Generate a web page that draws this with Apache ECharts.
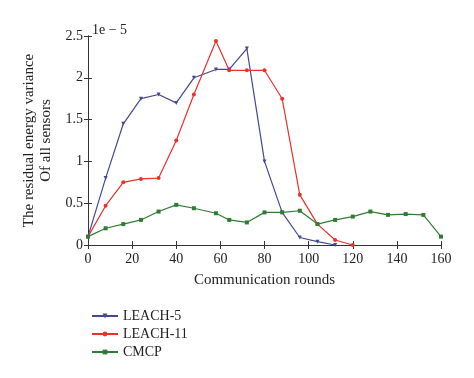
<!DOCTYPE html>
<html>
<head>
<meta charset="utf-8">
<script src="https://cdn.jsdelivr.net/npm/echarts@6/dist/echarts.min.js"></script>
<style>html,body{margin:0;padding:0;background:#fff}#c{width:474px;height:378px}</style>
</head>
<body>
<div id="c"></div>
<script>
var xTicks = [0, 20, 40, 60, 80, 100, 120, 140, 160];
var yTicks = [0, 0.5, 1, 1.5, 2, 2.5];
var leach5X = [0, 8, 16, 24, 32, 40, 48, 58, 64, 72, 80, 88, 96, 104, 112];
var leach5Y = [0.1, 0.8, 1.45, 1.75, 1.8, 1.7, 2.0, 2.1, 2.1, 2.35, 1.0, 0.39, 0.09, 0.04, 0];
var leach11X = [0, 8, 16, 24, 32, 40, 48, 58, 64, 72, 80, 88, 96, 104, 112, 120];
var leach11Y = [0.1, 0.47, 0.75, 0.79, 0.8, 1.25, 1.8, 2.44, 2.09, 2.09, 2.09, 1.75, 0.6, 0.25, 0.06, 0];
var cmcpX = [0, 8, 16, 24, 32, 40, 48, 58, 64, 72, 80, 88, 96, 104, 112, 120, 128, 136, 144, 152, 160];
var cmcpY = [0.1, 0.2, 0.25, 0.3, 0.4, 0.48, 0.44, 0.38, 0.3, 0.27, 0.39, 0.39, 0.41, 0.25, 0.3, 0.34, 0.4, 0.36, 0.37, 0.36, 0.1];
var seriesNames = ['LEACH-5', 'LEACH-11', 'CMCP'];
var colors = ['#45488f', '#e8322b', '#2f7d35'];

function pairs(xs, ys) { return xs.map(function (x, i) { return [x, ys[i]]; }); }

var font = '"Liberation Serif", "DejaVu Serif", serif';
var chart = echarts.init(document.getElementById('c'));
var axisLine = { show: true, lineStyle: { color: '#333', width: 1 } };
var tick = { show: true, inside: true, length: 4, lineStyle: { color: '#333' } };
chart.setOption({
  animation: false,
  grid: { left: 88, right: 33, top: 36, bottom: 133 },
  title: {
    text: '1e − 5', left: 87, top: 18,
    textStyle: { fontFamily: font, fontSize: 14, fontWeight: 'normal', color: '#222' }
  },
  legend: {
    orient: 'vertical', left: 86, top: 304,
    itemWidth: 26, itemHeight: 6, itemGap: 4,
    data: seriesNames,
    textStyle: { fontFamily: font, fontSize: 14, color: '#222' }
  },
  xAxis: [{
    type: 'value', min: 0, max: 160, interval: 20,
    name: 'Communication rounds', nameLocation: 'middle', nameGap: 28,
    nameTextStyle: { fontFamily: font, fontSize: 15, color: '#222' },
    axisLine: axisLine, axisTick: tick, splitLine: { show: false },
    axisLabel: { fontFamily: font, fontSize: 14, color: '#222', margin: 7 }
  }, {
    type: 'value', min: 0, max: 160, interval: 20, position: 'top',
    axisLine: axisLine, axisTick: tick, splitLine: { show: false }, axisLabel: { show: false }
  }],
  yAxis: [{
    type: 'value', min: 0, max: 2.5, interval: 0.5,
    name: 'The residual energy variance\nOf all sensors', nameLocation: 'middle', nameGap: 33,
    nameTextStyle: { fontFamily: font, fontSize: 15, color: '#222', lineHeight: 17 },
    axisLine: axisLine, axisTick: tick, splitLine: { show: false },
    axisLabel: { fontFamily: font, fontSize: 14, color: '#222', margin: 5,
      formatter: function (v) { return String(v); } }
  }, {
    type: 'value', min: 0, max: 2.5, interval: 0.5, position: 'right',
    axisLine: axisLine, axisTick: tick, splitLine: { show: false }, axisLabel: { show: false }
  }],
  series: [{
    name: seriesNames[0], type: 'line', data: pairs(leach5X, leach5Y),
    symbol: 'triangle', symbolRotate: 180, symbolSize: 4,
    itemStyle: { color: colors[0] }, lineStyle: { color: colors[0], width: 1.2 }
  }, {
    name: seriesNames[1], type: 'line', data: pairs(leach11X, leach11Y),
    symbol: 'circle', symbolSize: 4,
    itemStyle: { color: colors[1] }, lineStyle: { color: colors[1], width: 1.2 }
  }, {
    name: seriesNames[2], type: 'line', data: pairs(cmcpX, cmcpY),
    symbol: 'rect', symbolSize: 4,
    itemStyle: { color: colors[2] }, lineStyle: { color: colors[2], width: 1.2 }
  }]
});
</script>
</body>
</html>
